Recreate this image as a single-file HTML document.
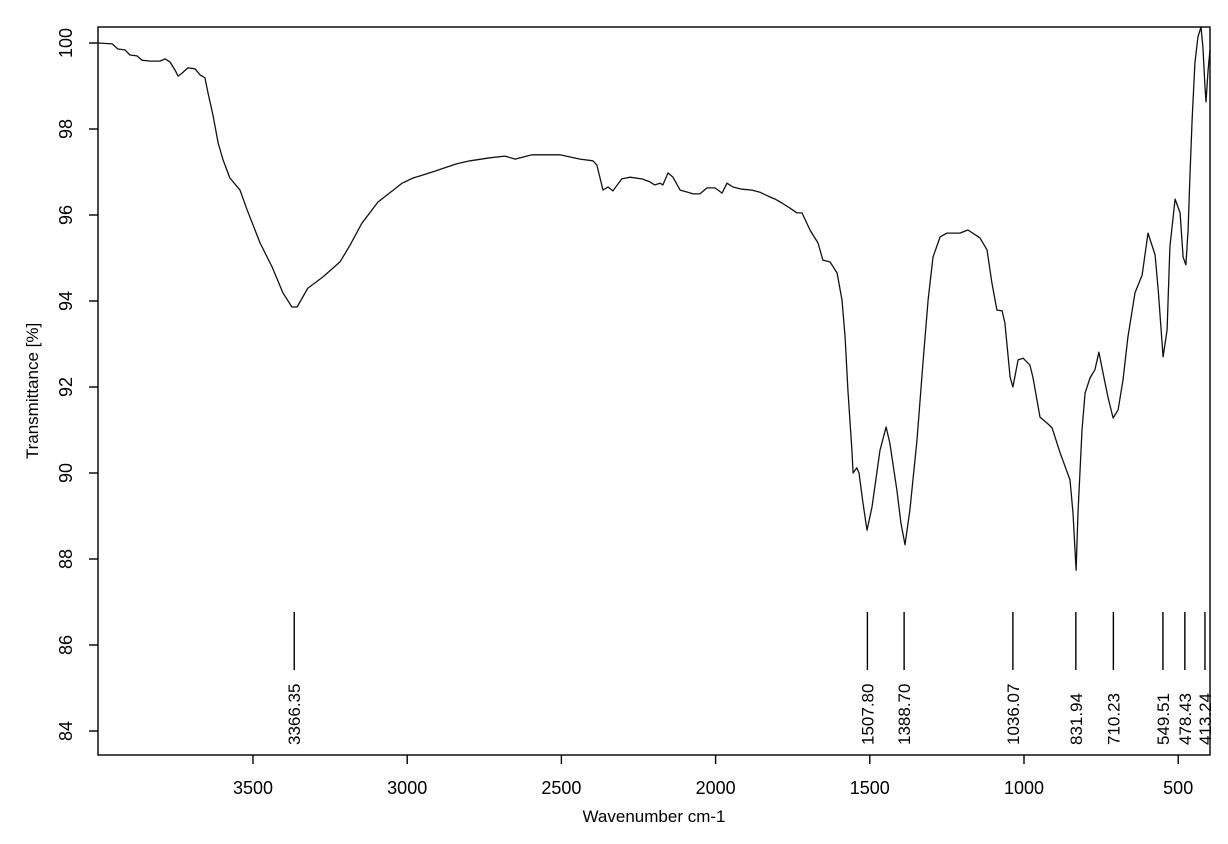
<!DOCTYPE html>
<html><head><meta charset="utf-8"><style>
html,body{margin:0;padding:0;background:#fff;}
svg{display:block;font-family:"Liberation Sans",Arial,sans-serif;}
</style></head><body>
<svg id="chart" width="1228" height="844" viewBox="0 0 1228 844" xmlns="http://www.w3.org/2000/svg">
<defs><clipPath id="plotclip"><rect x="98" y="27" width="1112" height="728"/></clipPath></defs>
<rect x="0" y="0" width="1228" height="844" fill="#fff"/>
<g id="axes"></g>
<g id="series" clip-path="url(#plotclip)"></g>
<g id="peaks"></g>
<rect x="98" y="27" width="1112" height="728" fill="none" stroke="#000" stroke-width="1.4"/>
<text x="654" y="822" font-size="17" text-anchor="middle">Wavenumber cm-1</text>
<text transform="translate(38,391) rotate(-90)" font-size="17" text-anchor="middle">Transmittance [%]</text>
</svg>
<script>
const wavenumbers = [4003,3957,3938,3915,3899,3876,3860,3834,3802,3785,3769,3753,3743,3730,3711,3688,3672,3656,3646,3630,3613,3597,3575,3542,3519,3477,3438,3403,3374,3357,3322,3273,3218,3185,3147,3095,3017,2981,2949,2910,2868,2839,2796,2732,2683,2650,2595,2543,2505,2440,2398,2385,2365,2349,2333,2304,2278,2239,2213,2197,2180,2171,2154,2138,2115,2090,2073,2051,2028,2002,1979,1963,1944,1914,1882,1856,1830,1807,1785,1759,1736,1720,1694,1668,1652,1629,1606,1590,1580,1571,1558,1554,1542,1535,1522,1509,1493,1467,1447,1435,1412,1399,1386,1370,1347,1327,1311,1295,1272,1250,1208,1182,1143,1120,1104,1088,1071,1062,1045,1036,1019,1003,981,971,948,925,909,883,851,841,831,825,812,802,786,770,757,744,728,711,695,679,663,640,617,598,575,565,549,536,527,510,494,484,475,468,462,455,446,436,426,420,413,410,403,397];
const transmittance = [100.00,99.98,99.86,99.84,99.72,99.70,99.60,99.58,99.58,99.63,99.56,99.37,99.23,99.30,99.42,99.40,99.26,99.19,98.84,98.33,97.67,97.28,96.86,96.58,96.12,95.35,94.79,94.19,93.86,93.86,94.30,94.56,94.91,95.30,95.81,96.30,96.74,96.86,96.93,97.02,97.12,97.19,97.26,97.33,97.37,97.30,97.40,97.40,97.40,97.30,97.26,97.16,96.58,96.65,96.56,96.84,96.88,96.84,96.77,96.70,96.74,96.70,96.98,96.88,96.58,96.53,96.49,96.49,96.63,96.63,96.51,96.74,96.65,96.60,96.58,96.53,96.44,96.37,96.28,96.16,96.05,96.05,95.65,95.35,94.95,94.91,94.65,94.02,93.16,91.93,90.53,90.00,90.12,90.00,89.30,88.67,89.21,90.53,91.07,90.70,89.60,88.84,88.33,89.14,90.77,92.63,94.02,95.02,95.49,95.58,95.58,95.65,95.47,95.19,94.42,93.79,93.77,93.49,92.23,92.00,92.63,92.67,92.51,92.23,91.30,91.16,91.05,90.47,89.84,89.07,87.74,89.07,91.00,91.86,92.21,92.40,92.81,92.33,91.77,91.28,91.47,92.16,93.16,94.19,94.60,95.58,95.07,94.26,92.70,93.33,95.26,96.37,96.05,95.02,94.84,95.65,96.88,98.21,99.53,100.14,100.37,99.91,98.98,98.63,99.37,99.84];
const peakPositions = [3366.35,1507.80,1388.70,1036.07,831.94,710.23,549.51,478.43,413.24];
const peakLabels = ["3366.35","1507.80","1388.70","1036.07","831.94","710.23","549.51","478.43","413.24"];
const xTicks = [3500,3000,2500,2000,1500,1000,500];
const yTicks = [84,86,88,90,92,94,96,98,100];

const NS = "http://www.w3.org/2000/svg";
function xScale(w){ return 253 + (3500 - w) * 0.3084; }
function yScale(v){ return 731 - (v - 84) * 43; }
function mk(tag, attrs, parent){ const e=document.createElementNS(NS,tag); for(const k in attrs) e.setAttribute(k,attrs[k]); parent.appendChild(e); return e; }

const axes = document.getElementById('axes');
xTicks.forEach(t=>{
  const x = xScale(t);
  const ln = mk('line',{x1:x,y1:755,x2:x,y2:764,stroke:'#000','stroke-width':1.4},axes);
  
  
  const tx = mk('text',{x:x,y:794,'font-size':18,'text-anchor':'middle'},axes);
  
  
  tx.textContent = t;
});
yTicks.forEach(t=>{
  const y = yScale(t);
  const ln = mk('line',{x1:89,y1:y,x2:98,y2:y,stroke:'#000','stroke-width':1.4},axes);
  
  
  const tx = mk('text',{transform:`translate(72,${y}) rotate(-90)`,'font-size':18,'text-anchor':'middle'},axes);
  
  
  tx.textContent = t;
});

const series = document.getElementById('series');
let d = '';
wavenumbers.forEach((w,i)=>{ d += (i?'L':'M') + xScale(w).toFixed(1) + ',' + yScale(transmittance[i]).toFixed(1); });
const path = mk('path',{d:d,fill:'none',stroke:'#111','stroke-width':1.3,'stroke-linejoin':'round'},series);



const peaks = document.getElementById('peaks');
peakPositions.forEach((p,i)=>{
  const x = xScale(p);
  const ln = mk('line',{x1:x,y1:612,x2:x,y2:670,stroke:'#000','stroke-width':1.4},peaks);
  
  
  const tx = mk('text',{transform:`translate(${x+6},745) rotate(-90)`,'font-size':17,'text-anchor':'start'},peaks);
  
  
  tx.textContent = peakLabels[i];
});
</script>
</body></html>
